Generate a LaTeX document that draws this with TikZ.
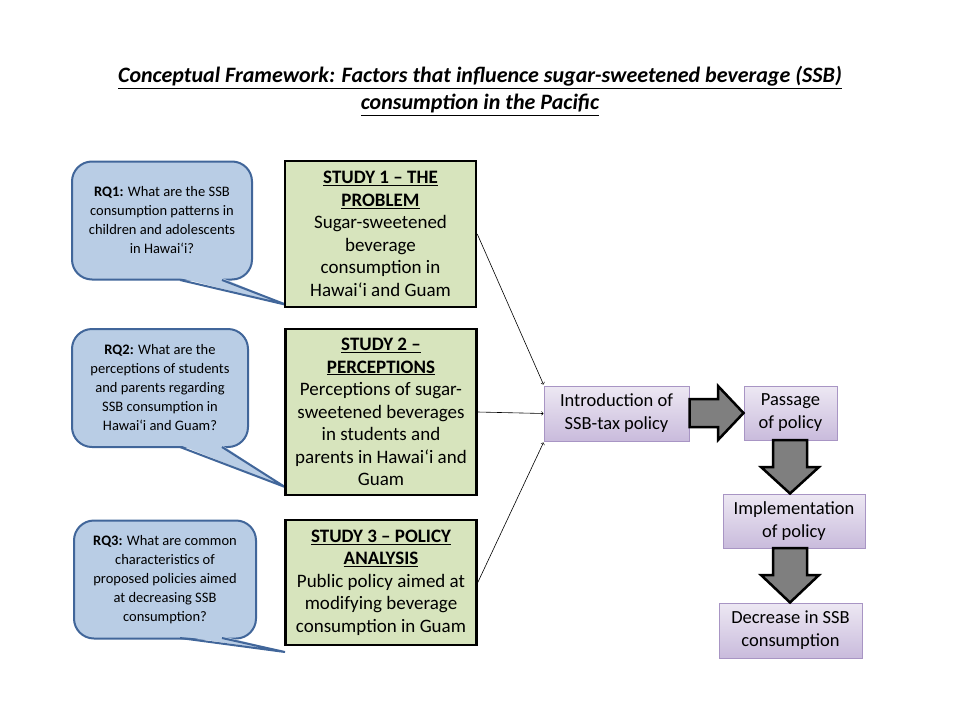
\documentclass[tikz,border=0pt]{standalone}
\usepackage{fontspec}
\setmainfont{Carlito}
\usetikzlibrary{calc}
\definecolor{cfill}{HTML}{B9CDE5}
\definecolor{cline}{HTML}{41669A}
\definecolor{gfill}{HTML}{D7E4BD}
\definecolor{ptop}{HTML}{EDE8F3}
\definecolor{pbot}{HTML}{C9BBDC}
\definecolor{pline}{HTML}{A895C4}
\definecolor{agray}{HTML}{7F7F7F}
\begin{document}
\begin{tikzpicture}[x=1pt,y=-1pt,
  callout/.style={draw=cline,line width=2pt,fill=cfill,rounded corners=20pt,minimum width=#1,minimum height=118pt,align=center,font=\fontsize{14.5}{19}\selectfont,inner sep=0pt},
  study/.style={draw=black,line width=2.5pt,fill=gfill,align=center,minimum width=191pt,font=\fontsize{19}{22.5}\selectfont,inner sep=0pt},
  pbox/.style={draw=pline,line width=1pt,top color=ptop,bottom color=pbot,align=center,font=\fontsize{18.5}{23}\selectfont,inner sep=0pt},
  thin/.style={->,line width=0.6pt},
  block/.style={fill=agray,draw=black,line width=2.5pt,line join=miter}]
\useasboundingbox (0,0) rectangle (960,720);
\fill[white] (0,0) rectangle (960,720);
\node (title) at (480,91) [align=center,font=\fontsize{22}{27}\selectfont\bfseries\itshape]
 {\underline{Conceptual Framework: Factors that influence sugar-sweetened beverage (SSB)}\\\underline{consumption in the Pacific}};

% callouts
\node[callout=180pt] (c1) at (162,220.5) {\textbf{RQ1:} What are the SSB\\consumption patterns in\\children and adolescents\\in Hawai‘i?};
\node[callout=176pt] (c2) at (160,388) {\textbf{RQ2:} What are the\\perceptions of students\\and parents regarding\\SSB consumption in\\Hawai‘i and Guam?};
\node[callout=182pt] (c3) at (165,579.5) {\textbf{RQ3:} What are common\\characteristics of\\proposed policies aimed\\at decreasing SSB\\consumption?};
\coordinate (t1) at (287,305);
\coordinate (t2) at (285,487);
\coordinate (t3) at (285,652);
\fill[cfill] (180,278) -- (t1) -- (222,278) -- cycle;
\draw[cline,line width=2pt,line join=miter] (180,280) -- (t1) -- (222,280);
\fill[cfill] (180,445) -- (t2) -- (222,445) -- cycle;
\draw[cline,line width=2pt,line join=miter] (180,447) -- (t2) -- (222,447);
\fill[cfill] (180,636) -- (t3) -- (222,636) -- cycle;
\draw[cline,line width=2pt,line join=miter] (180,638) -- (t3) -- (222,638);

% studies
\node[study,minimum height=146pt] (s1) at (380.5,234) {\textbf{\underline{STUDY 1 – THE}}\\\textbf{\underline{PROBLEM}}\\Sugar-sweetened\\beverage\\consumption in\\Hawai‘i and Guam};
\node[study,minimum height=166pt] (s2) at (381,412) {\textbf{\underline{STUDY 2 –}}\\\textbf{\underline{PERCEPTIONS}}\\Perceptions of sugar-\\sweetened beverages\\in students and\\parents in Hawai‘i and\\Guam};
\node[study,minimum height=125pt] (s3) at (381,582.5) {\textbf{\underline{STUDY 3 – POLICY}}\\\textbf{\underline{ANALYSIS}}\\Public policy aimed at\\modifying beverage\\consumption in Guam};

% purple
\node[pbox,minimum width=145pt,minimum height=55pt] (p1) at (616.5,413.5) {Introduction of\\SSB-tax policy};
\node[pbox,minimum width=93pt,minimum height=54pt] (p2) at (790.5,413) {Passage\\of policy};
\node[pbox,minimum width=142pt,minimum height=54pt] (p3) at (794,521) {Implementation\\of policy};
\node[pbox,minimum width=143pt,minimum height=55pt] (p4) at (790.5,630.5) {Decrease in SSB\\consumption};

\draw[thin] (s1.east) -- ($(p1.north west)+(0,-1)$);
\draw[thin] (s2.east) -- (p1.west);
\draw[thin] (s3.east) -- ($(p1.south west)+(0,1)$);

% block arrows
\draw[block] (p1.east |- 0,399) -- (718,399) -- (718,386) -- (p2.west) -- (718,440) -- (718,427) -- (p1.east |- 0,427) -- cycle;
\draw[block] (773,440) -- (773,467) -- (761,467) -- (p3.north -| 790,0) -- (819,467) -- (807,467) -- (807,440) -- cycle;
\draw[block] (773,548) -- (773,575) -- (761,575) -- (p4.north -| 790,0) -- (819,575) -- (807,575) -- (807,548) -- cycle;
\end{tikzpicture}
\end{document}
